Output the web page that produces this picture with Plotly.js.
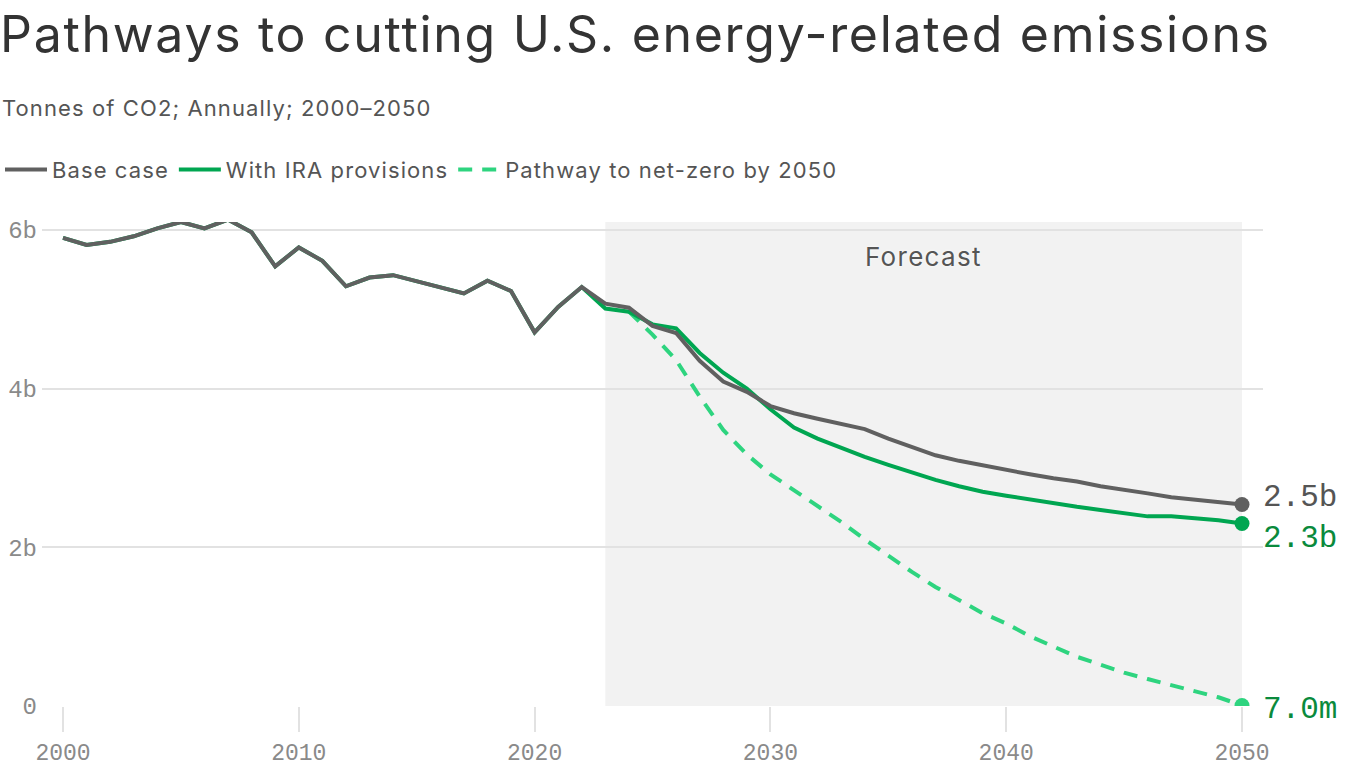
<!DOCTYPE html>
<html>
<head>
<meta charset="utf-8">
<script src="https://cdn.plot.ly/plotly-3.0.1.min.js"></script>
<style>
  html, body { margin: 0; padding: 0; background: #fff; }
  #chart { width: 1366px; height: 768px; }
  /* slightly open tracking for the sans-serif text */
  text[style*="Inter"] { letter-spacing: 0.05em; }
  text.gtitle { letter-spacing: 0.034em; }
</style>
</head>
<body>
<div id="chart"></div>
<script>
// Annual U.S. energy-related CO2 emissions, billions of tonnes
const histYears = [2000, 2001, 2002, 2003, 2004, 2005, 2006, 2007, 2008, 2009, 2010,
  2011, 2012, 2013, 2014, 2015, 2016, 2017, 2018, 2019, 2020, 2021, 2022];
const histValues = [5.90, 5.81, 5.85, 5.92, 6.02, 6.10, 6.02, 6.13, 5.97, 5.54, 5.78,
  5.61, 5.29, 5.40, 5.43, 5.35, 5.28, 5.20, 5.36, 5.23, 4.71, 5.03, 5.28];

const forecastYears = [2023, 2024, 2025, 2026, 2027, 2028, 2029, 2030, 2031, 2032,
  2033, 2034, 2035, 2036, 2037, 2038, 2039, 2040, 2041, 2042, 2043, 2044, 2045,
  2046, 2047, 2048, 2049, 2050];
const baseForecast = [5.07, 5.02, 4.79, 4.70, 4.35, 4.09, 3.96, 3.78, 3.69, 3.62,
  3.55, 3.49, 3.37, 3.27, 3.16, 3.09, 3.03, 2.97, 2.92, 2.87, 2.83, 2.77, 2.73,
  2.68, 2.63, 2.60, 2.57, 2.54];
const iraForecast = [5.01, 4.97, 4.81, 4.76, 4.45, 4.20, 4.00, 3.74, 3.51, 3.37,
  3.25, 3.14, 3.04, 2.94, 2.85, 2.77, 2.70, 2.65, 2.60, 2.55, 2.51, 2.47, 2.43,
  2.39, 2.39, 2.37, 2.34, 2.30];

const netZeroYears = [2024, 2025, 2026, 2027, 2028, 2029, 2030, 2031, 2032, 2033,
  2034, 2035, 2036, 2037, 2038, 2039, 2040, 2041, 2042, 2043, 2044, 2045, 2046,
  2047, 2048, 2049, 2050];
const netZeroValues = [4.97, 4.68, 4.36, 3.90, 3.48, 3.17, 2.92, 2.72, 2.52, 2.32,
  2.10, 1.89, 1.69, 1.50, 1.34, 1.17, 1.04, 0.88, 0.75, 0.62, 0.52, 0.42, 0.34,
  0.26, 0.19, 0.11, 0.007];

const seriesNames = ['Base case', 'With IRA provisions', 'Pathway to net-zero by 2050'];
const forecastSpan = [2023, 2050];
const forecastLabel = 'Forecast';

const yTickVals = [0, 2, 4, 6];
const yTickText = ['0', '2b', '4b', '6b'];
const xTickVals = [2000, 2010, 2020, 2030, 2040, 2050];

const chartTitle = 'Pathways to cutting U.S. energy-related emissions';
const chartSubtitle = 'Tonnes of CO2; Annually; 2000–2050';

// Colours
const GRAY = '#606060';
const GREEN = '#00a651';
const LIGHT_GREEN = '#2ed47f';
const LABEL_GREEN = '#0a8a3c';

const years = histYears.concat(forecastYears);
const base = histValues.concat(baseForecast);
const ira = histValues.concat(iraForecast);

function fmt(v) {
  return v >= 1 ? v.toFixed(1) + 'b' : (v * 1000).toFixed(1) + 'm';
}
const last = arr => arr[arr.length - 1];

const MONO = '"Liberation Mono", "DejaVu Sans Mono", monospace';
const SANS = 'Inter, "Noto Sans", sans-serif';

const traces = [
  {
    x: netZeroYears, y: netZeroValues, name: seriesNames[2], type: 'scatter', mode: 'lines',
    line: { color: LIGHT_GREEN, width: 4, dash: '14px,10px' }, legendrank: 3, hoverinfo: 'skip'
  },
  {
    x: years, y: ira, name: seriesNames[1], type: 'scatter', mode: 'lines',
    line: { color: GREEN, width: 4 }, legendrank: 2, hoverinfo: 'skip'
  },
  {
    x: years, y: base, name: seriesNames[0], type: 'scatter', mode: 'lines',
    line: { color: GRAY, width: 4 }, legendrank: 1, hoverinfo: 'skip'
  },
  {
    x: [last(netZeroYears), last(years), last(years)],
    y: [last(netZeroValues), last(ira), last(base)],
    type: 'scatter', mode: 'markers', showlegend: false, hoverinfo: 'skip',
    marker: { size: 15, color: [LIGHT_GREEN, GREEN, GRAY] }
  }
];

const endLabels = [
  { v: last(base), color: '#555555', yshift: 7 },
  { v: last(ira), color: LABEL_GREEN, yshift: -15 },
  { v: last(netZeroValues), color: LABEL_GREEN, yshift: -4 }
];

const annotations = [
  {
    text: chartSubtitle, xref: 'paper', yref: 'paper', x: -0.0344, y: 1.2355,
    xanchor: 'left', yanchor: 'middle', showarrow: false,
    font: { family: SANS, size: 22, color: '#555' }
  },
  {
    text: forecastLabel, xref: 'x', yref: 'paper',
    x: (forecastSpan[0] + forecastSpan[1]) / 2, y: 0.928,
    xanchor: 'center', yanchor: 'middle', showarrow: false,
    font: { family: SANS, size: 26, color: '#555', shadow: '0px 0px 3px #ffffff' }
  }
].concat(endLabels.map(l => ({
  text: fmt(l.v), xref: 'x', yref: 'y', x: last(years), y: l.v,
  xanchor: 'left', yanchor: 'middle', xshift: 19, yshift: l.yshift, showarrow: false,
  font: { family: MONO, size: 31, color: l.color }
})));

const layout = {
  width: 1366, height: 768,
  margin: { l: 42, r: 103, t: 222, b: 62 },
  paper_bgcolor: '#ffffff', plot_bgcolor: '#ffffff',
  title: {
    text: chartTitle, x: 0, xref: 'container', xanchor: 'left',
    y: 0.955, yref: 'container', yanchor: 'middle', pad: { l: 0, t: 0, r: 0, b: 0 },
    font: { family: SANS, size: 50, color: '#333333' }
  },
  showlegend: true,
  legend: {
    orientation: 'h', xref: 'container', x: -0.003, xanchor: 'left',
    yref: 'container', y: 0.779, yanchor: 'middle', itemwidth: 42,
    font: { family: SANS, size: 22, color: '#555' }, bgcolor: 'rgba(0,0,0,0)',
    traceorder: 'normal', itemclick: false
  },
  xaxis: {
    range: [1999.11, 2050.89], tickvals: xTickVals, showgrid: false, zeroline: false,
    ticks: 'outside', ticklen: 25, tickwidth: 2, tickcolor: '#e2e2e2',
    showline: false, fixedrange: true,
    tickfont: { family: MONO, size: 23, color: '#8a8a8a' }
  },
  yaxis: {
    range: [0, 6.1], tickvals: yTickVals, ticktext: yTickText,
    showgrid: true, gridcolor: '#e2e2e2', gridwidth: 2, zeroline: false,
    ticks: '', showline: false, fixedrange: true, ticklabelstandoff: 4,
    tickfont: { family: MONO, size: 24, color: '#8a8a8a' }
  },
  shapes: [
    {
      type: 'rect', xref: 'x', yref: 'paper', x0: forecastSpan[0], x1: forecastSpan[1],
      y0: 0, y1: 1, fillcolor: '#f2f2f2', line: { width: 0 }, layer: 'below'
    }
  ],
  annotations: annotations
};

Plotly.newPlot('chart', traces, layout, { displayModeBar: false, staticPlot: true });
</script>
</body>
</html>
